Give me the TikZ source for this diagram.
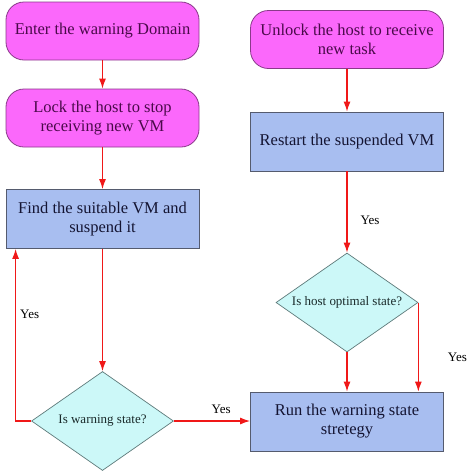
\documentclass[tikz,border=0pt]{standalone}
\usepackage{fontspec}
\setmainfont{Liberation Serif}
\usetikzlibrary{arrows.meta, shapes.geometric, positioning}
\definecolor{pinkfill}{HTML}{FB68FB}
\definecolor{pinkdraw}{HTML}{8A3A8A}
\definecolor{pinktext}{HTML}{4A0A4A}
\definecolor{bluefill}{HTML}{A8BEF0}
\definecolor{bluedraw}{HTML}{555B6E}
\definecolor{bluetext}{HTML}{141432}
\definecolor{cyanfill}{HTML}{CCF8F8}
\definecolor{cyandraw}{HTML}{5E7A7A}
\definecolor{cyantext}{HTML}{1A2A2A}
\definecolor{flowred}{HTML}{F01818}
\tikzset{startbox/.style={draw=pinkdraw,fill=pinkfill,text=pinktext,line width=0.8pt,rounded corners=18pt,minimum width=193pt,minimum height=58pt,align=center,font=\fontsize{16.5}{19}\selectfont}}
\tikzset{stepbox/.style={draw=bluedraw,fill=bluefill,text=bluetext,line width=0.8pt,minimum width=193pt,minimum height=59pt,align=center,font=\fontsize{16.5}{19}\selectfont}}
\tikzset{testbox/.style={diamond,aspect=1.4,draw=cyandraw,fill=cyanfill,text=cyantext,line width=0.7pt,inner sep=0pt,minimum width=142pt,minimum height=99pt,font=\fontsize{13}{15}\selectfont}}
\tikzset{yes label/.style={text=black,inner sep=1pt,font=\fontsize{13}{15}\selectfont}}
\tikzset{flow/.style={->,draw=flowred,line width=1.2pt}}

\begin{document}
\begin{tikzpicture}[x=1pt,y=-1pt,>={Latex[length=10pt,width=7pt]}]
                    \useasboundingbox (0,0) rectangle (474,472);
                    \node[startbox](Enter) at (102.5,31){Enter the warning Domain};
                    \node[startbox](Lock) at (102.5,118){Lock the host to stop\\receiving new VM};
                    \node[stepbox](Find) at (102.5,219){Find the suitable VM and\\suspend it};
                    \node[testbox](Warn) at (102.5,421){Is warning state?};
                    \node[startbox](Unlock) at (347,39.5){Unlock the host to receive\\new task};
                    \node[stepbox](Restart) at (347,141.5){Restart the suspended VM};
                    \node[testbox](Optimal) at (347,302.5){Is host optimal state?};
                    \node[stepbox](Run) at (347,421.5){Run the warning state\\stretegy};

                    \draw[flow] (Enter) -- (Lock);
                    \draw[flow] (Lock) -- (Find);
                    \draw[flow] (Find) -- (Warn);
                    \draw[flow] (Warn.east) -- node[yes label,above=6pt,pos=0.62](YesRun){Yes} (Warn.east -| Run.west);
                    \draw[flow] (Warn.west) -| node[yes label,right=3pt,pos=0.81](YesBack){Yes} ([xshift=10pt]Find.south west);
                    \draw[flow] (Unlock) -- (Restart);
                    \draw[flow] (Restart) -- node[yes label,right=12pt,pos=0.6](YesTest){Yes} (Optimal);
                    \draw[flow] (Optimal) -- (Run);
                    \draw[flow] (Optimal.east) -- node[yes label,right=28pt,pos=0.61](YesSide){Yes} (Optimal.east |- Run.north);

                \end{tikzpicture}
\end{document}
